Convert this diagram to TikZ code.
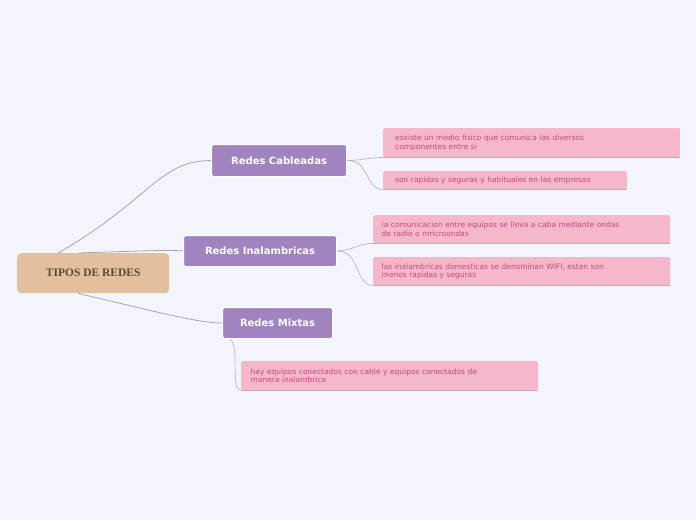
\documentclass[tikz,border=0pt]{standalone}
\usepackage{fontspec}
\setmainfont{DejaVu Sans}
\newfontfamily\rootfont{Liberation Serif}
\begin{document}
\begin{tikzpicture}[x=1pt,y=-1pt,
  conn/.style={draw=black!35,line width=0.8pt},
  thin/.style={draw=black!30,line width=0.6pt},
  main/.style={draw=white,line width=1.2pt,fill=purpleC,rounded corners=2pt,text=white,font=\bfseries\fontsize{10}{12}\selectfont,anchor=north west,inner sep=0pt},
  leaf/.style={fill=pinkC,rounded corners=1.5pt,text=pinkT,font=\fontsize{7.5}{8.5}\selectfont,anchor=north west,inner sep=0pt,align=left}]
\definecolor{bg}{HTML}{F2F5FE}
\definecolor{purpleC}{HTML}{A084C0}
\definecolor{pinkC}{HTML}{F5B8CB}
\definecolor{pinkT}{HTML}{C8467A}
\definecolor{rootC}{HTML}{E2C09E}
\definecolor{rootT}{HTML}{5A4A38}
\useasboundingbox[fill=bg] (0,0) rectangle (696,520);
% root
\node[fill=rootC,rounded corners=4pt,anchor=north west,minimum width=152pt,minimum height=40pt,inner sep=0pt,text=rootT,font=\rootfont\bfseries\fontsize{11.5}{13}\selectfont] (root) at (17,253) {TIPOS DE REDES};
% main nodes
\node[main,minimum width=135pt,minimum height=32pt] (c) at (211,144) {Redes Cableadas};
\node[main,minimum width=153pt,minimum height=31pt] (i) at (183,235) {Redes Inalambricas};
\node[main,minimum width=110pt,minimum height=31pt] (m) at (222,307) {Redes Mixtas};
% leaves
\node[leaf,minimum width=297pt,minimum height=29pt,text width=285pt] (l1) at (383,128) {\hspace*{6pt}esxiste un medio fisico que comunica las diversos\\\hspace*{6pt}componentes entre si};
\node[leaf,minimum width=244pt,minimum height=18pt,text width=232pt] (l2) at (383,171) {\hspace*{6pt}son rapidas y seguras y habituales en las empresas};
\node[leaf,minimum width=297pt,minimum height=28pt,text width=290pt] (l3) at (373,215) {\hspace*{5pt}la comunicacion entre equipos se lleva a caba mediante ondas\\\hspace*{5pt}de radio o mricroondas};
\node[leaf,minimum width=297pt,minimum height=28pt,text width=290pt] (l4) at (373,257) {\hspace*{5pt}las inalambricas domesticas se denominan WIFI, estan son\\\hspace*{5pt}menos rapidas y seguras};
\node[leaf,minimum width=297pt,minimum height=29pt,text width=290pt] (l5) at (241,361) {\hspace*{6pt}hay equipos conectados con cable y equipos conectados de\\\hspace*{6pt}manera inalambrica};
% underlines
\draw[thin] (l1.south west) -- (l1.south east);
\draw[thin] (l2.south west) -- (l2.south east);
\draw[thin] (l3.south west) -- (l3.south east);
\draw[thin] (l4.south west) -- (l4.south east);
\draw[thin] (l5.south west) -- (l5.south east);
% connectors root
\draw[conn] ([xshift=-35pt]root.north) .. controls (150,200) and (160,160) .. (c.west);
\draw[conn] ([xshift=-15pt]root.north) .. controls (165,250) and (175,250) .. (i.west);
\draw[conn] ([xshift=-15pt]root.south) .. controls (170,315) and (195,322) .. (m.west);
% connectors to leaves
\draw[thin] (c.east) .. controls (365,160) and (365,158) .. (l1.south west);
\draw[thin] (c.east) .. controls (370,160) and (365,190) .. (l2.south west);
\draw[thin] (i.east) .. controls (355,250) and (355,244) .. (l3.south west);
\draw[thin] (i.east) .. controls (360,250) and (355,286) .. (l4.south west);
\draw[thin] ([xshift=8pt]m.south west) .. controls (240,345) and (230,391) .. (l5.south west);
\end{tikzpicture}
\end{document}
